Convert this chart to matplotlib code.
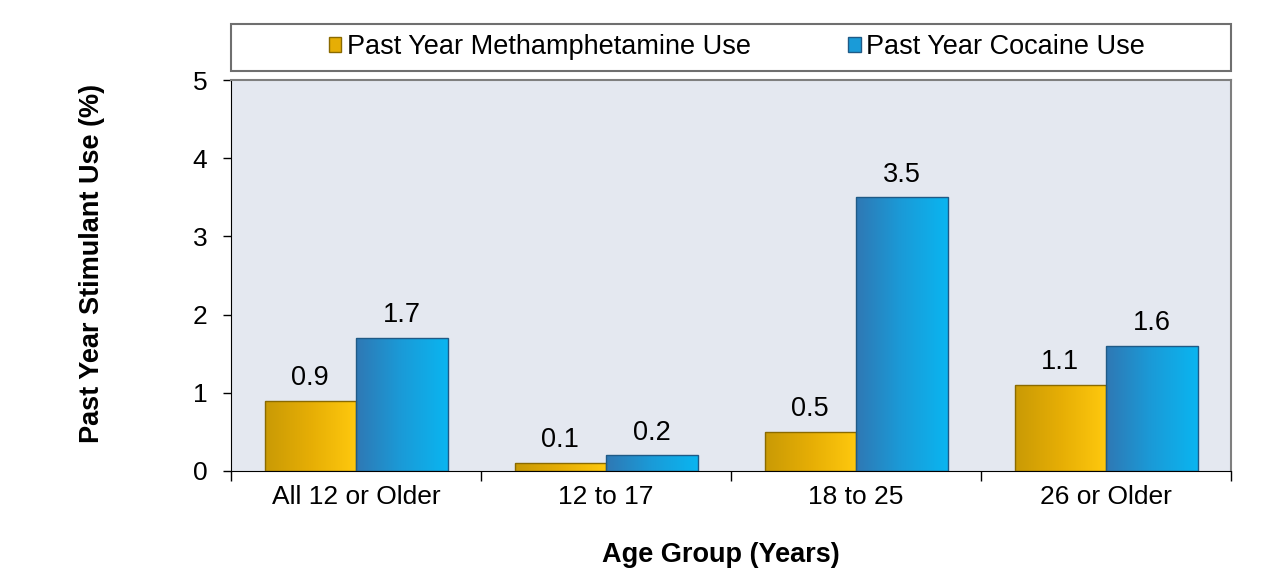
import matplotlib.pyplot as plt
import numpy as np
from matplotlib.patches import Rectangle
from matplotlib.colors import LinearSegmentedColormap

plt.rcParams["font.family"] = ["Liberation Sans", "DejaVu Sans"]

# data
age_groups = ["All 12 or Older", "12 to 17", "18 to 25", "26 or Older"]
meth_use = [0.9, 0.1, 0.5, 1.1]
cocaine_use = [1.7, 0.2, 3.5, 1.6]
series_names = ["Past Year Methamphetamine Use", "Past Year Cocaine Use"]

gold_cmap = LinearSegmentedColormap.from_list("gold", ["#C99A06", "#E6AE05", "#FFC90E"])
blue_cmap = LinearSegmentedColormap.from_list("blue", ["#2F78B4", "#1A9BD8", "#0AB5F0"])

fig = plt.figure(figsize=(12.8, 5.88), dpi=100)
ax = fig.add_axes([231 / 1280, 1 - 471 / 588, 1000 / 1280, 391 / 588])
ax.set_facecolor("#E4E8F0")

x = np.arange(len(age_groups))
w = 0.366
grad = np.linspace(0, 1, 256).reshape(1, -1)


def gradient_bars(xpos, vals, cmap, edge):
    bars = ax.bar(xpos, vals, width=w, color="none", edgecolor=edge, linewidth=1.0, zorder=3)
    for b in bars:
        x0, y0 = b.get_x(), b.get_y()
        im = ax.imshow(grad, cmap=cmap, aspect="auto", zorder=2,
                       extent=[x0, x0 + b.get_width(), y0, y0 + b.get_height()])
        im.set_clip_path(b)
    return bars


bars_m = gradient_bars(x - w / 2, meth_use, gold_cmap, "#8A6A00")
bars_c = gradient_bars(x + w / 2, cocaine_use, blue_cmap, "#1F5A86")

for bars, vals in [(bars_m, meth_use), (bars_c, cocaine_use)]:
    for b, v in zip(bars, vals):
        ax.annotate(f"{v:.1f}", (b.get_x() + b.get_width() / 2, v),
                    xytext=(0, 7), textcoords="offset points",
                    ha="center", va="bottom", fontsize=19.5, zorder=4)

ax.set_xlim(-0.5, 3.5)
ax.set_ylim(0, 5)
ax.set_yticks(range(6))
ax.tick_params(axis="y", direction="out", length=6, width=1, labelsize=19, pad=11)
ax.set_xticks(x)
ax.set_xticklabels(age_groups)
ax.set_xticks(np.arange(-0.5, 4.0, 1.0), minor=True)
ax.tick_params(axis="x", which="major", length=0, labelsize=19, pad=10)
ax.tick_params(axis="x", which="minor", length=7, width=1, direction="out")

for side in ["top", "right"]:
    ax.spines[side].set_color("#7F7F7F")
    ax.spines[side].set_linewidth(1.5)
ax.spines["left"].set_color("black")
ax.spines["bottom"].set_color("black")

ax.set_ylabel("Past Year Stimulant Use (%)", fontsize=19.5, fontweight="bold", va="center")
ax.yaxis.set_label_coords(-0.139, 0.53)
ax.set_xlabel("Age Group (Years)", fontsize=19.5, fontweight="bold", va="center")
ax.xaxis.set_label_coords(0.49, -0.215)

# legend box above the plot
fig.patches.append(Rectangle((231 / 1280, 1 - 71 / 588), 1000 / 1280, 47 / 588,
                             transform=fig.transFigure, facecolor="white",
                             edgecolor="#6F6F6F", linewidth=1.5))
handles = [Rectangle((0, 0), 1, 1, facecolor="#E6AE05", edgecolor="#8A6A00"),
           Rectangle((0, 0), 1, 1, facecolor="#1A9BD8", edgecolor="#1F5A86")]
fig.legend(handles, series_names, loc="center", ncol=2, frameon=False,
           bbox_to_anchor=(737 / 1280, 1 - 47 / 588), fontsize=19.5,
           handlelength=0.45, handleheight=0.5, handletextpad=0.2, columnspacing=3.6)

fig.savefig("out.png", dpi=100)
